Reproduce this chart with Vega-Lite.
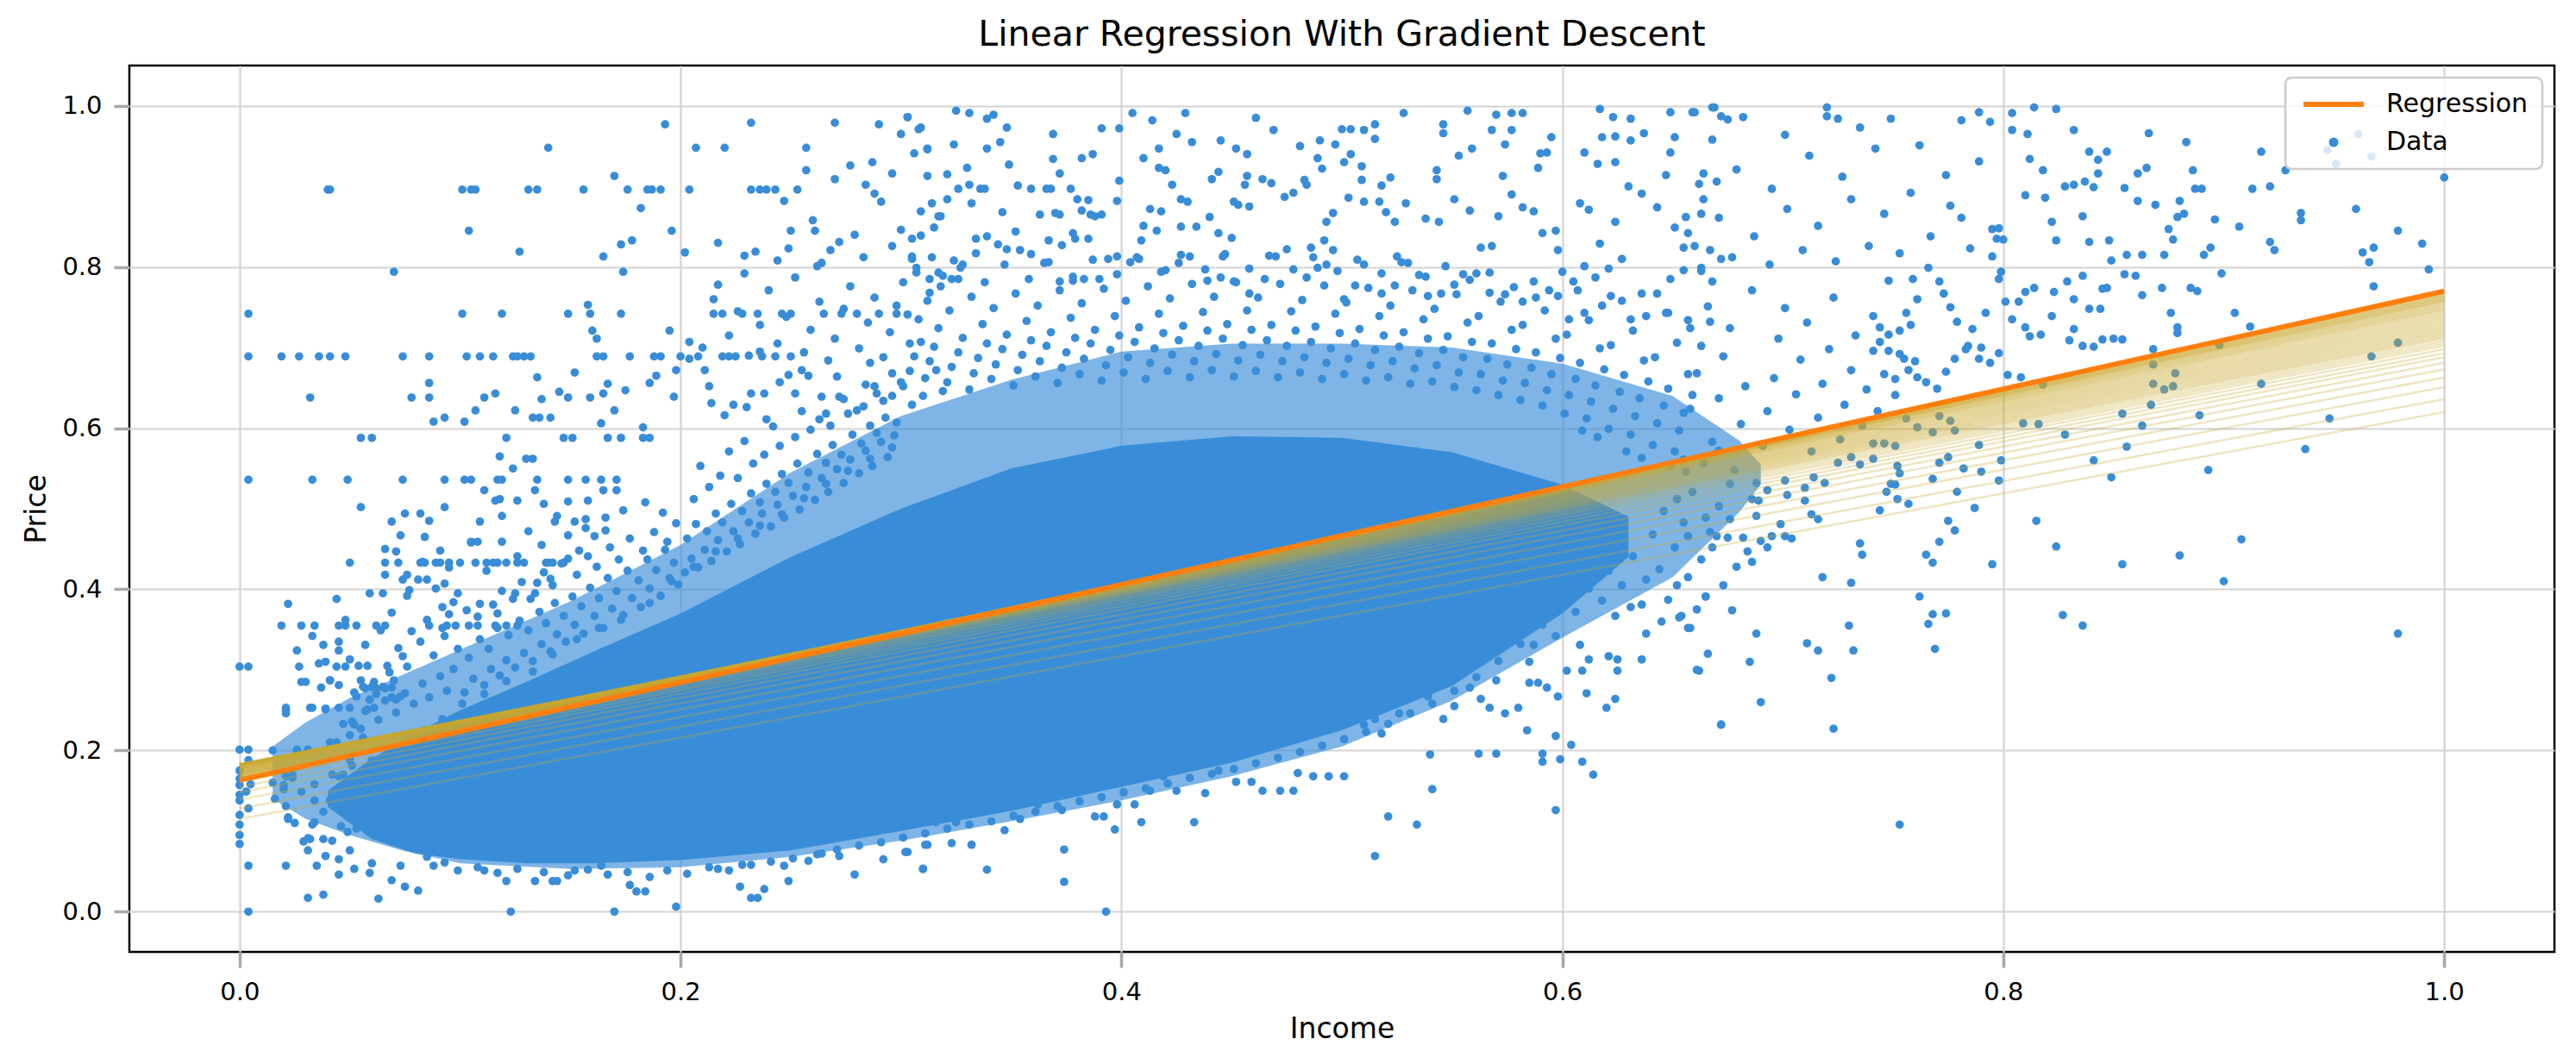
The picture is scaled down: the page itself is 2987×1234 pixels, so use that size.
{
  "$schema": "https://vega.github.io/schema/vega-lite/v6.json",
  "width": 2812,
  "height": 1028,
  "autosize": "none",
  "padding": {"left": 150, "top": 76, "right": 25, "bottom": 130},
  "background": "white",
  "title": {
    "text": "Linear Regression With Gradient Descent",
    "font": "DejaVu Sans",
    "fontSize": 41,
    "fontWeight": "normal",
    "color": "#000000",
    "anchor": "middle",
    "frame": "group",
    "offset": 12,
    "dy": -2
  },
  "config": {
    "view": {"stroke": "#000000", "strokeWidth": 2.5},
    "axis": {
      "labelFont": "DejaVu Sans",
      "labelFontSize": 29,
      "labelColor": "#000000",
      "titleFont": "DejaVu Sans",
      "titleFontSize": 33,
      "titleFontWeight": "normal",
      "titleColor": "#000000",
      "tickSize": 18,
      "tickWidth": 3.5,
      "tickColor": "#a8a8a8",
      "gridColor": "#d3d3d3",
      "gridWidth": 2.2,
      "domain": false,
      "labelPadding": 14,
      "titlePadding": 12
    },
    "legend": {
      "orient": "top-right",
      "offset": 14,
      "padding": 16,
      "fillColor": "rgba(255,255,255,0.8)",
      "strokeColor": "#cccccc",
      "cornerRadius": 7,
      "labelFont": "DejaVu Sans",
      "labelFontSize": 30,
      "labelColor": "#000000",
      "labelLimit": 400,
      "labelOffset": 71,
      "rowPadding": 14,
      "symbolSize": 400,
      "symbolStrokeWidth": 6
    }
  },
  "layer": [
    {
      "data": {
        "values": "x,lo,hi\n0.015,0.140,0.205\n0.030,0.115,0.235\n0.050,0.095,0.265\n0.075,0.075,0.295\n0.100,0.060,0.325\n0.150,0.053,0.385\n0.200,0.055,0.455\n0.250,0.068,0.545\n0.300,0.088,0.615\n0.350,0.112,0.660\n0.400,0.138,0.695\n0.450,0.168,0.705\n0.500,0.205,0.705\n0.550,0.262,0.700\n0.600,0.340,0.680\n0.650,0.415,0.640\n0.680,0.495,0.585\n0.690,0.530,0.555",
        "format": {"type": "csv", "parse": {"x": "number", "lo": "number", "hi": "number"}}
      },
      "mark": {"type": "area", "color": "#398dd8", "opacity": 0.65},
      "encoding": {
        "x": {
          "field": "x",
          "type": "quantitative",
          "title": "Income",
          "scale": {"domain": [-0.05, 1.05], "nice": false, "zero": false},
          "axis": {"values": [0, 0.2, 0.4, 0.6, 0.8, 1.0], "format": ".1f", "grid": true}
        },
        "y": {
          "field": "lo",
          "type": "quantitative",
          "title": "Price",
          "scale": {"domain": [-0.05, 1.05], "nice": false, "zero": false},
          "axis": {"values": [0, 0.2, 0.4, 0.6, 0.8, 1.0], "format": ".1f", "grid": true}
        },
        "y2": {"field": "hi"}
      }
    },
    {
      "data": {
        "values": "x,lo,hi\n0.040,0.130,0.150\n0.060,0.090,0.190\n0.080,0.072,0.222\n0.100,0.065,0.250\n0.130,0.060,0.285\n0.160,0.060,0.322\n0.200,0.064,0.370\n0.250,0.076,0.440\n0.300,0.100,0.500\n0.350,0.125,0.550\n0.400,0.155,0.578\n0.450,0.185,0.590\n0.500,0.225,0.588\n0.550,0.280,0.570\n0.600,0.370,0.530\n0.630,0.440,0.490",
        "format": {"type": "csv", "parse": {"x": "number", "lo": "number", "hi": "number"}}
      },
      "mark": {"type": "area", "color": "#398dd8", "opacity": 1},
      "encoding": {
        "x": {"field": "x", "type": "quantitative", "title": "Income"},
        "y": {"field": "lo", "type": "quantitative", "title": "Price"},
        "y2": {"field": "hi"}
      }
    },
    {
      "data": {
        "values": "x,y\n0,0.304\n0.004,0.304\n0,0.201\n0.004,0.201\n0,0.175\n0,0.157\n0,0.138\n0,0.12\n0,0.108\n0,0.084\n0.004,0.057\n0.004,0\n0,0.145\n0,0.165\n0,0.095\n0.004,0.188\n0.004,0.128\n0.005,0.158\n0.003,0.149\n0.015,0.2\n0.026,0.201\n0.031,0.201\n0.021,0.253\n0.021,0.246\n0.033,0.253\n0.039,0.251\n0.045,0.253\n0.05,0.253\n0.03,0.285\n0.037,0.278\n0.041,0.287\n0.045,0.281\n0.052,0.272\n0.056,0.279\n0.06,0.279\n0.065,0.279\n0.069,0.278\n0.073,0.267\n0.071,0.263\n0.062,0.27\n0.059,0.263\n0.057,0.249\n0.061,0.253\n0.047,0.233\n0.051,0.236\n0.055,0.227\n0.056,0.216\n0.05,0.219\n0.041,0.21\n0.044,0.21\n0.02,0.152\n0.024,0.166\n0.028,0.149\n0.034,0.158\n0.034,0.138\n0.021,0.131\n0.022,0.117\n0.025,0.11\n0.033,0.108\n0.038,0.124\n0.041,0.138\n0.042,0.17\n0.047,0.17\n0.051,0.181\n0.05,0.188\n0.056,0.172\n0.06,0.188\n0.046,0.106\n0.049,0.099\n0.053,0.103\n0.038,0.09\n0.032,0.09\n0.042,0.088\n0.021,0.168\n0.024,0.17\n0.015,0.16\n0.016,0.14\n0.02,0.157\n0.022,0.115\n0.034,0.111\n0.031,0.091\n0.031,0.076\n0.029,0.087\n0.021,0.057\n0.031,0.017\n0.038,0.021\n0.035,0.057\n0.039,0.069\n0.045,0.065\n0.045,0.046\n0.05,0.076\n0.052,0.053\n0.059,0.048\n0.06,0.06\n0.063,0.016\n0.069,0.039\n0.075,0.031\n0.081,0.026\n0.073,0.057\n0.088,0.057\n0.099,0.051\n0.111,0.051\n0.121,0.038\n0.123,0\n0.134,0.038\n0.142,0.038\n0.144,0.038\n0.152,0.051\n0.164,0.057\n0.17,0\n0.177,0.033\n0.18,0.025\n0.184,0.025\n0.198,0.006\n0.217,0.053\n0.227,0.031\n0.232,0.017\n0.235,0.017\n0.238,0.028\n0.228,0.058\n0.247,0.057\n0.249,0.038\n0.258,0.063\n0.264,0.072\n0.279,0.046\n0.272,0.069\n0.292,0.065\n0.303,0.074\n0.31,0.053\n0.311,0.083\n0.026,0.324\n0.027,0.304\n0.028,0.285\n0.036,0.308\n0.039,0.31\n0.038,0.331\n0.033,0.342\n0.041,0.287\n0.044,0.304\n0.045,0.335\n0.045,0.324\n0.048,0.304\n0.05,0.313\n0.054,0.305\n0.058,0.305\n0.055,0.287\n0.057,0.277\n0.062,0.277\n0.066,0.277\n0.069,0.266\n0.068,0.297\n0.074,0.317\n0.076,0.304\n0.07,0.287\n0.053,0.267\n0.039,0.252\n0.032,0.253\n0.021,0.25\n0.019,0.355\n0.028,0.355\n0.034,0.355\n0.045,0.355\n0.048,0.355\n0.053,0.355\n0.062,0.355\n0.066,0.355\n0.086,0.355\n0.094,0.355\n0.104,0.355\n0.108,0.355\n0.116,0.355\n0.121,0.355\n0.126,0.355\n0.022,0.382\n0.065,0.395\n0.066,0.45\n0.074,0.412\n0.076,0.418\n0.077,0.399\n0.085,0.412\n0.083,0.434\n0.093,0.407\n0.097,0.384\n0.099,0.395\n0.095,0.369\n0.092,0.352\n0.103,0.374\n0.109,0.382\n0.117,0.37\n0.125,0.395\n0.132,0.388\n0.135,0.408\n0.141,0.413\n0.14,0.433\n0.149,0.438\n0.154,0.448\n0.161,0.466\n0.166,0.473\n0.05,0.433\n0.066,0.433\n0.072,0.433\n0.082,0.433\n0.084,0.433\n0.089,0.433\n0.091,0.433\n0.095,0.433\n0.1,0.433\n0.107,0.433\n0.112,0.433\n0.115,0.433\n0.117,0.433\n0.121,0.433\n0.126,0.433\n0.129,0.433\n0.139,0.433\n0.142,0.433\n0.147,0.433\n0.004,0.536\n0.033,0.536\n0.049,0.536\n0.074,0.536\n0.093,0.536\n0.102,0.536\n0.105,0.536\n0.117,0.536\n0.119,0.536\n0.135,0.536\n0.149,0.536\n0.157,0.536\n0.164,0.536\n0.171,0.536\n0.118,0.565\n0.124,0.55\n0.13,0.562\n0.133,0.562\n0.055,0.502\n0.069,0.484\n0.075,0.494\n0.073,0.467\n0.082,0.494\n0.086,0.485\n0.093,0.502\n0.111,0.523\n0.116,0.51\n0.118,0.512\n0.126,0.51\n0.119,0.491\n0.109,0.484\n0.105,0.459\n0.108,0.459\n0.119,0.459\n0.134,0.523\n0.138,0.506\n0.143,0.484\n0.149,0.509\n0.152,0.484\n0.158,0.51\n0.165,0.523\n0.171,0.523\n0.157,0.487\n0.055,0.588\n0.06,0.588\n0.147,0.588\n0.151,0.588\n0.167,0.588\n0.173,0.588\n0.121,0.588\n0.183,0.588\n0.186,0.588\n0.158,0.753\n0.16,0.721\n0.162,0.711\n0.195,0.721\n0.204,0.707\n0.204,0.686\n0.198,0.672\n0.189,0.665\n0.186,0.656\n0.197,0.639\n0.175,0.647\n0.167,0.655\n0.165,0.643\n0.159,0.638\n0.152,0.669\n0.149,0.638\n0.145,0.645\n0.137,0.636\n0.135,0.663\n0.116,0.643\n0.111,0.638\n0.107,0.622\n0.102,0.608\n0.093,0.613\n0.088,0.608\n0.086,0.656\n0.086,0.638\n0.078,0.638\n0.032,0.638\n0.125,0.622\n0.133,0.613\n0.136,0.613\n0.141,0.613\n0.164,0.606\n0.17,0.622\n0.183,0.601\n0.213,0.652\n0.214,0.631\n0.22,0.616\n0.224,0.629\n0.232,0.643\n0.23,0.626\n0.238,0.643\n0.239,0.611\n0.245,0.657\n0.249,0.666\n0.252,0.643\n0.258,0.665\n0.264,0.639\n0.266,0.618\n0.274,0.636\n0.28,0.622\n0.284,0.654\n0.289,0.643\n0.296,0.64\n0.3,0.657\n0.305,0.629\n0.31,0.64\n0.316,0.672\n0.04,0.896\n0.041,0.896\n0.101,0.896\n0.105,0.896\n0.107,0.896\n0.131,0.896\n0.135,0.896\n0.156,0.896\n0.176,0.896\n0.185,0.896\n0.187,0.896\n0.191,0.896\n0.204,0.896\n0.232,0.896\n0.236,0.896\n0.239,0.896\n0.243,0.896\n0.253,0.896\n0.193,0.977\n0.14,0.948\n0.207,0.948\n0.22,0.948\n0.232,0.979\n0.257,0.948\n0.27,0.979\n0.29,0.977\n0.303,0.986\n0.3,0.965\n0.309,0.973\n0.312,0.947\n0.257,0.92\n0.277,0.926\n0.27,0.909\n0.287,0.93\n0.296,0.916\n0.17,0.913\n0.182,0.873\n0.104,0.845\n0.127,0.819\n0.165,0.813\n0.173,0.828\n0.178,0.833\n0.196,0.845\n0.202,0.818\n0.217,0.83\n0.229,0.814\n0.234,0.819\n0.247,0.882\n0.249,0.823\n0.25,0.845\n0.26,0.858\n0.261,0.845\n0.264,0.805\n0.268,0.821\n0.272,0.831\n0.279,0.84\n0.284,0.902\n0.288,0.891\n0.291,0.881\n0.3,0.846\n0.305,0.813\n0.307,0.799\n0.315,0.849\n0.318,0.863\n0.07,0.794\n0.174,0.794\n0.004,0.742\n0.101,0.742\n0.119,0.742\n0.149,0.742\n0.159,0.742\n0.173,0.742\n0.215,0.742\n0.219,0.742\n0.228,0.742\n0.235,0.742\n0.246,0.742\n0.25,0.742\n0.265,0.742\n0.273,0.742\n0.28,0.742\n0.29,0.742\n0.298,0.742\n0.004,0.689\n0.019,0.689\n0.027,0.689\n0.036,0.689\n0.041,0.689\n0.048,0.689\n0.074,0.689\n0.086,0.689\n0.103,0.689\n0.109,0.689\n0.115,0.689\n0.124,0.689\n0.126,0.689\n0.129,0.689\n0.132,0.689\n0.162,0.689\n0.165,0.689\n0.177,0.689\n0.188,0.689\n0.191,0.689\n0.2,0.689\n0.208,0.689\n0.219,0.689\n0.222,0.689\n0.225,0.689\n0.237,0.689\n0.243,0.689\n0.25,0.689\n0.21,0.7\n0.215,0.76\n0.222,0.715\n0.226,0.745\n0.231,0.69\n0.236,0.728\n0.24,0.771\n0.244,0.705\n0.248,0.738\n0.252,0.787\n0.256,0.694\n0.259,0.722\n0.263,0.757\n0.267,0.684\n0.27,0.711\n0.274,0.748\n0.277,0.776\n0.281,0.699\n0.285,0.731\n0.288,0.762\n0.292,0.688\n0.295,0.719\n0.298,0.752\n0.301,0.781\n0.304,0.705\n0.308,0.735\n0.313,0.768\n0.317,0.793\n0.262,0.801\n0.283,0.812\n0.296,0.826\n0.309,0.839\n0.229,0.792\n0.244,0.808\n0.217,0.778\n0.236,0.695\n0.255,0.672\n0.271,0.664\n0.286,0.681\n0.211,0.672\n0.052,0.232\n0.058,0.251\n0.063,0.238\n0.066,0.262\n0.071,0.247\n0.075,0.271\n0.079,0.258\n0.083,0.283\n0.086,0.266\n0.091,0.292\n0.094,0.274\n0.097,0.301\n0.088,0.318\n0.082,0.335\n0.093,0.342\n0.099,0.326\n0.061,0.285\n0.067,0.305\n0.072,0.327\n0.078,0.348\n0.085,0.362\n0.092,0.378\n0.098,0.355\n0.064,0.349\n0.057,0.331\n0.069,0.371\n0.076,0.392\n0.081,0.412\n0.089,0.401\n0.095,0.427\n0.059,0.395\n0.066,0.418\n0.048,0.362\n0.044,0.388\n0.071,0.447\n0.084,0.465\n0.091,0.448\n0.102,0.272\n0.106,0.289\n0.111,0.281\n0.114,0.301\n0.118,0.293\n0.121,0.312\n0.125,0.303\n0.129,0.321\n0.133,0.311\n0.137,0.332\n0.141,0.323\n0.144,0.344\n0.148,0.335\n0.152,0.356\n0.156,0.345\n0.161,0.367\n0.165,0.352\n0.169,0.376\n0.173,0.362\n0.178,0.389\n0.182,0.378\n0.186,0.401\n0.191,0.392\n0.195,0.414\n0.199,0.406\n0.104,0.315\n0.109,0.338\n0.113,0.326\n0.117,0.352\n0.122,0.343\n0.127,0.361\n0.131,0.349\n0.136,0.372\n0.139,0.358\n0.143,0.383\n0.147,0.367\n0.151,0.391\n0.155,0.379\n0.159,0.402\n0.163,0.389\n0.167,0.414\n0.171,0.398\n0.176,0.423\n0.181,0.411\n0.185,0.437\n0.189,0.424\n0.193,0.449\n0.197,0.433\n0.108,0.366\n0.115,0.381\n0.119,0.398\n0.124,0.388\n0.128,0.409\n0.134,0.395\n0.138,0.421\n0.142,0.405\n0.146,0.432\n0.153,0.418\n0.158,0.441\n0.162,0.428\n0.168,0.452\n0.172,0.437\n0.177,0.463\n0.183,0.448\n0.188,0.471\n0.194,0.459\n0.198,0.482\n0.112,0.423\n0.126,0.441\n0.137,0.455\n0.149,0.467\n0.157,0.476\n0.166,0.489\n0.174,0.498\n0.184,0.508\n0.192,0.495\n0.105,0.458\n0.131,0.472\n0.144,0.491\n0.202,0.421\n0.205,0.438\n0.208,0.427\n0.211,0.449\n0.214,0.435\n0.217,0.461\n0.221,0.447\n0.224,0.472\n0.227,0.456\n0.231,0.483\n0.234,0.469\n0.237,0.494\n0.241,0.478\n0.244,0.505\n0.247,0.489\n0.251,0.516\n0.254,0.499\n0.257,0.527\n0.261,0.511\n0.264,0.538\n0.267,0.521\n0.271,0.549\n0.274,0.532\n0.277,0.561\n0.281,0.544\n0.284,0.572\n0.287,0.553\n0.291,0.583\n0.294,0.564\n0.297,0.591\n0.203,0.463\n0.207,0.481\n0.212,0.472\n0.216,0.494\n0.219,0.483\n0.223,0.506\n0.228,0.497\n0.232,0.519\n0.236,0.508\n0.239,0.531\n0.243,0.521\n0.246,0.543\n0.249,0.532\n0.253,0.556\n0.258,0.545\n0.262,0.568\n0.266,0.557\n0.269,0.579\n0.273,0.567\n0.278,0.592\n0.282,0.581\n0.286,0.603\n0.289,0.594\n0.293,0.613\n0.298,0.607\n0.206,0.512\n0.213,0.527\n0.218,0.541\n0.226,0.538\n0.233,0.556\n0.238,0.567\n0.245,0.578\n0.252,0.589\n0.259,0.598\n0.263,0.611\n0.268,0.603\n0.276,0.618\n0.283,0.627\n0.292,0.634\n0.209,0.553\n0.222,0.571\n0.229,0.584\n0.242,0.602\n0.255,0.621\n0.272,0.639\n0.288,0.652\n0.296,0.668\n0.085,0.068\n0.093,0.061\n0.108,0.055\n0.117,0.048\n0.126,0.053\n0.138,0.049\n0.149,0.045\n0.158,0.052\n0.167,0.046\n0.176,0.049\n0.186,0.043\n0.194,0.051\n0.203,0.047\n0.213,0.055\n0.222,0.051\n0.232,0.058\n0.241,0.062\n0.251,0.066\n0.262,0.071\n0.271,0.077\n0.281,0.082\n0.291,0.086\n0.301,0.092\n0.311,0.097\n0.321,0.103\n0.331,0.108\n0.341,0.112\n0.351,0.119\n0.361,0.124\n0.371,0.131\n0.381,0.137\n0.391,0.142\n0.401,0.148\n0.411,0.153\n0.421,0.159\n0.431,0.166\n0.441,0.171\n0.451,0.177\n0.461,0.184\n0.471,0.191\n0.481,0.198\n0.491,0.206\n0.501,0.214\n0.511,0.223\n0.521,0.233\n0.531,0.246\n0.541,0.258\n0.551,0.274\n0.561,0.291\n0.571,0.311\n0.581,0.332\n0.591,0.356\n0.601,0.381\n0.045,0.168\n0.053,0.162\n0.062,0.18\n0.068,0.198\n0.077,0.218\n0.084,0.225\n0.092,0.239\n0.101,0.258\n0.111,0.27\n0.121,0.286\n0.133,0.298\n0.142,0.319\n0.153,0.338\n0.163,0.352\n0.174,0.368\n0.186,0.383\n0.196,0.41\n0.206,0.428\n0.216,0.447\n0.226,0.463\n0.236,0.479\n0.246,0.493\n0.256,0.513\n0.266,0.531\n0.276,0.547\n0.286,0.562\n0.296,0.576\n0.584,0.225\n0.597,0.218\n0.597,0.126\n0.604,0.207\n0.609,0.186\n0.614,0.17\n0.599,0.189\n0.591,0.186\n0.591,0.196\n0.57,0.196\n0.562,0.196\n0.541,0.152\n0.534,0.108\n0.521,0.118\n0.515,0.069\n0.54,0.195\n0.57,0.287\n0.577,0.342\n0.571,0.342\n0.585,0.284\n0.589,0.284\n0.593,0.278\n0.598,0.267\n0.585,0.31\n0.587,0.331\n0.584,0.356\n0.597,0.342\n0.602,0.299\n0.608,0.331\n0.611,0.271\n0.62,0.253\n0.624,0.264\n0.609,0.299\n0.612,0.313\n0.621,0.317\n0.625,0.313\n0.625,0.299\n0.636,0.313\n0.624,0.367\n0.636,0.381\n0.638,0.345\n0.645,0.36\n0.653,0.365\n0.658,0.352\n0.665,0.391\n0.662,0.299\n0.672,0.232\n0.597,0.381\n0.593,0.391\n0.586,0.381\n0.582,0.363\n0.565,0.324\n0.56,0.335\n0.555,0.345\n0.55,0.32\n0.547,0.345\n0.544,0.285\n0.539,0.267\n0.542,0.317\n0.536,0.303\n0.532,0.289\n0.527,0.278\n0.522,0.267\n0.526,0.246\n0.518,0.221\n0.515,0.239\n0.51,0.232\n0.506,0.246\n0.501,0.168\n0.494,0.168\n0.487,0.168\n0.48,0.172\n0.472,0.15\n0.478,0.15\n0.464,0.15\n0.459,0.161\n0.452,0.161\n0.444,0.175\n0.438,0.147\n0.433,0.111\n0.425,0.15\n0.419,0.168\n0.413,0.15\n0.409,0.111\n0.406,0.133\n0.398,0.133\n0.397,0.102\n0.393,0\n0.388,0.118\n0.392,0.118\n0.374,0.037\n0.374,0.077\n0.373,0.126\n0.362,0.133\n0.354,0.115\n0.347,0.101\n0.339,0.052\n0.332,0.083\n0.323,0.085\n0.312,0.083\n0.31,0.053\n0.302,0.074\n0.325,0.111\n0.316,0.111\n0.339,0.133\n0.347,0.133\n0.546,0.239\n0.551,0.255\n0.558,0.278\n0.563,0.264\n0.58,0.253\n0.574,0.246\n0.567,0.253\n0.641,0.468\n0.646,0.497\n0.651,0.452\n0.655,0.483\n0.659,0.521\n0.663,0.437\n0.667,0.471\n0.671,0.503\n0.644,0.425\n0.652,0.405\n0.648,0.387\n0.638,0.412\n0.632,0.441\n0.627,0.405\n0.621,0.423\n0.618,0.386\n0.612,0.401\n0.606,0.372\n0.631,0.378\n0.657,0.415\n0.668,0.452\n0.676,0.487\n0.682,0.464\n0.688,0.491\n0.679,0.428\n0.673,0.405\n0.661,0.375\n0.693,0.452\n0.699,0.481\n0.704,0.463\n0.686,0.512\n0.676,0.531\n0.664,0.556\n0.671,0.572\n0.301,0.652\n0.304,0.671\n0.306,0.689\n0.309,0.707\n0.311,0.662\n0.313,0.683\n0.315,0.701\n0.317,0.724\n0.319,0.646\n0.303,0.741\n0.312,0.758\n0.318,0.776\n0.307,0.793\n0.314,0.812\n0.321,0.657\n0.323,0.676\n0.326,0.694\n0.328,0.712\n0.331,0.648\n0.333,0.668\n0.335,0.687\n0.337,0.729\n0.339,0.705\n0.322,0.746\n0.332,0.763\n0.338,0.781\n0.327,0.799\n0.334,0.817\n0.341,0.661\n0.343,0.679\n0.346,0.698\n0.348,0.716\n0.351,0.653\n0.353,0.672\n0.355,0.691\n0.357,0.733\n0.359,0.709\n0.342,0.749\n0.352,0.767\n0.358,0.785\n0.347,0.803\n0.354,0.821\n0.361,0.664\n0.363,0.683\n0.366,0.702\n0.368,0.719\n0.371,0.656\n0.373,0.675\n0.375,0.694\n0.377,0.737\n0.379,0.712\n0.362,0.752\n0.372,0.771\n0.378,0.788\n0.367,0.806\n0.381,0.667\n0.383,0.686\n0.386,0.705\n0.388,0.722\n0.391,0.659\n0.393,0.678\n0.395,0.697\n0.397,0.739\n0.399,0.715\n0.382,0.755\n0.392,0.773\n0.398,0.791\n0.387,0.809\n0.401,0.669\n0.403,0.688\n0.406,0.707\n0.408,0.725\n0.411,0.661\n0.413,0.681\n0.415,0.699\n0.417,0.742\n0.419,0.718\n0.402,0.758\n0.412,0.776\n0.418,0.794\n0.407,0.812\n0.421,0.671\n0.423,0.691\n0.426,0.709\n0.428,0.727\n0.431,0.663\n0.433,0.683\n0.435,0.702\n0.437,0.744\n0.439,0.721\n0.422,0.761\n0.432,0.779\n0.438,0.797\n0.427,0.815\n0.441,0.672\n0.443,0.692\n0.446,0.711\n0.448,0.729\n0.451,0.664\n0.453,0.684\n0.455,0.703\n0.457,0.746\n0.459,0.722\n0.442,0.763\n0.452,0.781\n0.458,0.798\n0.447,0.816\n0.461,0.671\n0.463,0.691\n0.466,0.709\n0.468,0.728\n0.471,0.663\n0.473,0.683\n0.475,0.702\n0.477,0.745\n0.479,0.721\n0.462,0.762\n0.472,0.779\n0.478,0.797\n0.467,0.814\n0.481,0.669\n0.483,0.688\n0.486,0.707\n0.488,0.726\n0.491,0.661\n0.493,0.681\n0.495,0.699\n0.497,0.742\n0.499,0.718\n0.482,0.759\n0.492,0.777\n0.498,0.795\n0.487,0.812\n0.501,0.667\n0.503,0.686\n0.506,0.705\n0.508,0.723\n0.511,0.659\n0.513,0.678\n0.515,0.697\n0.517,0.739\n0.519,0.715\n0.502,0.756\n0.512,0.774\n0.518,0.792\n0.507,0.809\n0.521,0.663\n0.523,0.683\n0.526,0.701\n0.528,0.719\n0.531,0.655\n0.533,0.674\n0.535,0.693\n0.537,0.735\n0.539,0.711\n0.522,0.752\n0.532,0.771\n0.538,0.788\n0.527,0.806\n0.541,0.658\n0.543,0.678\n0.546,0.697\n0.548,0.714\n0.551,0.651\n0.553,0.669\n0.555,0.688\n0.557,0.731\n0.559,0.707\n0.542,0.748\n0.552,0.766\n0.558,0.784\n0.547,0.801\n0.561,0.647\n0.563,0.667\n0.566,0.686\n0.568,0.705\n0.571,0.641\n0.573,0.659\n0.575,0.679\n0.577,0.722\n0.579,0.698\n0.562,0.739\n0.572,0.757\n0.578,0.775\n0.567,0.793\n0.581,0.635\n0.583,0.656\n0.586,0.675\n0.588,0.694\n0.591,0.628\n0.593,0.647\n0.595,0.667\n0.597,0.711\n0.599,0.687\n0.582,0.728\n0.592,0.746\n0.598,0.764\n0.587,0.782\n0.601,0.618\n0.603,0.641\n0.606,0.661\n0.608,0.681\n0.611,0.612\n0.613,0.633\n0.615,0.653\n0.617,0.699\n0.619,0.673\n0.602,0.716\n0.612,0.734\n0.618,0.752\n0.607,0.771\n0.609,0.597\n0.616,0.589\n0.621,0.599\n0.623,0.624\n0.626,0.645\n0.628,0.666\n0.631,0.592\n0.633,0.615\n0.635,0.637\n0.637,0.684\n0.639,0.658\n0.622,0.703\n0.632,0.721\n0.638,0.739\n0.627,0.758\n0.629,0.571\n0.636,0.563\n0.641,0.579\n0.643,0.606\n0.646,0.628\n0.648,0.649\n0.651,0.571\n0.653,0.597\n0.655,0.619\n0.657,0.667\n0.659,0.641\n0.642,0.688\n0.652,0.706\n0.658,0.724\n0.647,0.743\n0.649,0.553\n0.656,0.546\n0.303,0.986\n0.308,0.971\n0.325,0.994\n0.331,0.991\n0.339,0.984\n0.342,0.989\n0.348,0.973\n0.391,0.972\n0.399,0.972\n0.405,0.991\n0.414,0.982\n0.429,0.991\n0.461,0.985\n0.469,0.97\n0.528,0.991\n0.557,0.994\n0.57,0.989\n0.577,0.991\n0.582,0.991\n0.617,0.996\n0.623,0.986\n0.631,0.984\n0.649,0.992\n0.66,0.992\n0.669,0.998\n0.672,0.987\n0.306,0.941\n0.312,0.946\n0.324,0.952\n0.33,0.923\n0.339,0.947\n0.345,0.955\n0.349,0.927\n0.369,0.965\n0.369,0.934\n0.382,0.935\n0.387,0.94\n0.41,0.935\n0.417,0.947\n0.425,0.965\n0.432,0.955\n0.445,0.957\n0.452,0.947\n0.457,0.94\n0.481,0.95\n0.49,0.957\n0.497,0.952\n0.504,0.94\n0.5,0.971\n0.504,0.971\n0.51,0.97\n0.515,0.977\n0.515,0.959\n0.546,0.977\n0.546,0.966\n0.553,0.938\n0.559,0.947\n0.568,0.97\n0.574,0.952\n0.577,0.97\n0.595,0.961\n0.59,0.941\n0.593,0.942\n0.61,0.942\n0.618,0.961\n0.624,0.962\n0.631,0.957\n0.637,0.966\n0.651,0.961\n0.649,0.942\n0.664,0.916\n0.67,0.906\n0.616,0.928\n0.624,0.93\n0.647,0.914\n0.589,0.923\n0.573,0.913\n0.543,0.92\n0.543,0.909\n0.522,0.911\n0.518,0.901\n0.509,0.925\n0.509,0.908\n0.501,0.93\n0.489,0.935\n0.491,0.922\n0.483,0.908\n0.484,0.902\n0.478,0.892\n0.474,0.887\n0.464,0.909\n0.468,0.904\n0.457,0.913\n0.456,0.902\n0.451,0.881\n0.444,0.918\n0.441,0.909\n0.44,0.862\n0.43,0.881\n0.427,0.884\n0.423,0.902\n0.42,0.92\n0.417,0.923\n0.413,0.872\n0.418,0.869\n0.41,0.851\n0.409,0.833\n0.416,0.845\n0.427,0.85\n0.434,0.85\n0.444,0.842\n0.45,0.836\n0.446,0.813\n0.453,0.877\n0.458,0.875\n0.399,0.907\n0.398,0.882\n0.391,0.865\n0.388,0.863\n0.385,0.883\n0.382,0.87\n0.38,0.884\n0.377,0.897\n0.372,0.916\n0.368,0.897\n0.366,0.897\n0.363,0.865\n0.37,0.867\n0.372,0.865\n0.378,0.842\n0.379,0.835\n0.385,0.835\n0.386,0.865\n0.373,0.827\n0.367,0.833\n0.359,0.897\n0.353,0.901\n0.346,0.868\n0.338,0.897\n0.336,0.897\n0.331,0.902\n0.326,0.897\n0.321,0.915\n0.321,0.884\n0.317,0.863\n0.314,0.879\n0.312,0.913\n0.309,0.869\n0.332,0.879\n0.339,0.838\n0.334,0.835\n0.344,0.828\n0.348,0.822\n0.352,0.844\n0.359,0.816\n0.365,0.805\n0.372,0.782\n0.378,0.783\n0.383,0.785\n0.39,0.785\n0.394,0.81\n0.398,0.813\n0.324,0.808\n0.328,0.803\n0.319,0.789\n0.323,0.785\n0.326,0.785\n0.313,0.785\n0.305,0.81\n0.305,0.835\n0.404,0.806\n0.408,0.81\n0.42,0.796\n0.426,0.805\n0.431,0.813\n0.439,0.783\n0.445,0.787\n0.451,0.782\n0.458,0.767\n0.465,0.785\n0.47,0.813\n0.475,0.822\n0.484,0.787\n0.489,0.799\n0.493,0.803\n0.496,0.821\n0.492,0.833\n0.486,0.824\n0.493,0.856\n0.496,0.867\n0.503,0.886\n0.51,0.881\n0.517,0.881\n0.52,0.868\n0.524,0.856\n0.529,0.879\n0.538,0.86\n0.544,0.856\n0.551,0.884\n0.558,0.87\n0.563,0.824\n0.568,0.826\n0.571,0.863\n0.577,0.89\n0.582,0.874\n0.587,0.869\n0.591,0.842\n0.597,0.845\n0.598,0.821\n0.608,0.879\n0.612,0.871\n0.617,0.829\n0.624,0.856\n0.63,0.9\n0.636,0.891\n0.643,0.874\n0.651,0.849\n0.656,0.862\n0.663,0.866\n0.664,0.884\n0.655,0.824\n0.66,0.826\n0.667,0.821\n0.672,0.81\n0.627,0.81\n0.621,0.798\n0.615,0.787\n0.61,0.801\n0.605,0.782\n0.6,0.794\n0.594,0.771\n0.588,0.762\n0.582,0.757\n0.574,0.766\n0.567,0.768\n0.561,0.792\n0.555,0.791\n0.551,0.778\n0.545,0.767\n0.539,0.764\n0.535,0.79\n0.53,0.805\n0.525,0.813\n0.524,0.777\n0.518,0.767\n0.51,0.803\n0.506,0.777\n0.501,0.76\n0.636,0.767\n0.643,0.767\n0.649,0.785\n0.655,0.796\n0.663,0.799\n0.668,0.782\n0.648,0.743\n0.657,0.734\n0.667,0.732\n0.631,0.735\n0.622,0.764\n0.61,0.743\n0.603,0.735\n0.659,0.992\n0.668,0.998\n0.675,0.983\n0.682,0.986\n0.72,0.998\n0.72,0.987\n0.725,0.984\n0.749,0.984\n0.781,0.982\n0.789,0.992\n0.794,0.98\n0.804,0.991\n0.814,0.998\n0.824,0.996\n0.832,0.97\n0.804,0.97\n0.811,0.965\n0.866,0.966\n0.883,0.955\n0.917,0.943\n0.961,0.965\n0.947,0.945\n0.951,0.928\n0.967,0.937\n0.928,0.92\n1.0,0.911\n0.921,0.9\n0.913,0.897\n0.886,0.92\n0.865,0.923\n0.861,0.916\n0.847,0.943\n0.839,0.943\n0.843,0.933\n0.843,0.916\n0.837,0.906\n0.841,0.899\n0.855,0.898\n0.861,0.882\n0.869,0.877\n0.88,0.882\n0.887,0.897\n0.89,0.897\n0.879,0.862\n0.882,0.866\n0.896,0.859\n0.907,0.85\n0.935,0.867\n0.935,0.858\n0.96,0.872\n0.979,0.845\n0.99,0.829\n0.968,0.824\n0.963,0.818\n0.966,0.806\n0.968,0.776\n0.993,0.797\n0.923,0.821\n0.921,0.831\n0.894,0.824\n0.891,0.815\n0.877,0.834\n0.875,0.847\n0.873,0.815\n0.863,0.815\n0.856,0.815\n0.849,0.808\n0.848,0.833\n0.839,0.831\n0.836,0.863\n0.824,0.833\n0.822,0.856\n0.818,0.92\n0.812,0.934\n0.81,0.889\n0.819,0.886\n0.828,0.9\n0.832,0.902\n0.899,0.792\n0.872,0.774\n0.885,0.774\n0.888,0.77\n0.905,0.743\n0.912,0.726\n0.876,0.743\n0.879,0.725\n0.879,0.718\n0.868,0.698\n0.863,0.765\n0.855,0.791\n0.86,0.789\n0.847,0.774\n0.845,0.773\n0.844,0.748\n0.839,0.748\n0.832,0.76\n0.836,0.789\n0.829,0.782\n0.823,0.769\n0.832,0.723\n0.836,0.702\n0.83,0.709\n0.822,0.739\n0.814,0.774\n0.81,0.769\n0.807,0.757\n0.81,0.725\n0.804,0.735\n0.801,0.757\n0.798,0.785\n0.799,0.794\n0.795,0.813\n0.797,0.835\n0.8,0.834\n0.798,0.848\n0.795,0.847\n0.792,0.743\n0.786,0.723\n0.784,0.702\n0.79,0.7\n0.779,0.732\n0.776,0.75\n0.773,0.767\n0.771,0.782\n0.766,0.799\n0.759,0.785\n0.761,0.76\n0.756,0.743\n0.753,0.721\n0.748,0.716\n0.744,0.725\n0.744,0.707\n0.741,0.696\n0.748,0.696\n0.755,0.686\n0.757,0.672\n0.751,0.661\n0.76,0.683\n0.765,0.657\n0.77,0.649\n0.774,0.67\n0.778,0.686\n0.783,0.698\n0.789,0.686\n0.794,0.681\n0.798,0.693\n0.802,0.666\n0.808,0.663\n0.818,0.654\n0.817,0.716\n0.812,0.714\n0.841,0.701\n0.845,0.71\n0.85,0.711\n0.854,0.71\n0.868,0.679\n0.878,0.668\n0.873,0.648\n0.877,0.652\n0.889,0.616\n0.854,0.618\n0.863,0.603\n0.867,0.629\n0.868,0.655\n0.828,0.592\n0.809,0.606\n0.816,0.605\n0.841,0.56\n0.849,0.539\n0.937,0.574\n0.967,0.689\n0.979,0.706\n0.815,0.485\n0.824,0.453\n0.854,0.431\n0.88,0.442\n0.9,0.41\n0.908,0.462\n0.827,0.368\n0.836,0.355\n0.979,0.345\n0.795,0.431\n0.787,0.501\n0.778,0.473\n0.775,0.485\n0.771,0.459\n0.765,0.443\n0.768,0.433\n0.762,0.391\n0.768,0.369\n0.774,0.37\n0.766,0.357\n0.769,0.326\n0.753,0.108\n0.731,0.408\n0.73,0.355\n0.732,0.324\n0.722,0.29\n0.723,0.227\n0.716,0.324\n0.711,0.333\n0.718,0.415\n0.69,0.26\n0.672,0.232\n0.685,0.31\n0.688,0.345\n0.666,0.32\n0.661,0.3\n0.657,0.352\n0.665,0.391\n0.677,0.374\n0.654,0.367\n0.735,0.457\n0.736,0.443\n0.798,0.535\n0.799,0.56\n0.79,0.546\n0.782,0.55\n0.779,0.521\n0.775,0.564\n0.771,0.557\n0.768,0.537\n0.757,0.506\n0.752,0.512\n0.751,0.53\n0.747,0.521\n0.744,0.498\n0.789,0.579\n0.778,0.597\n0.776,0.609\n0.771,0.615\n0.761,0.601\n0.768,0.595\n0.746,0.581\n0.751,0.578\n0.741,0.581\n0.741,0.562\n0.752,0.553\n0.753,0.544\n0.749,0.531\n0.735,0.555\n0.731,0.564\n0.725,0.557\n0.719,0.532\n0.714,0.539\n0.71,0.526\n0.713,0.493\n0.716,0.487\n0.71,0.51\n0.702,0.517\n0.701,0.535\n0.693,0.523\n0.689,0.51\n0.701,0.466\n0.695,0.466\n0.69,0.46\n0.684,0.447\n0.686,0.434\n0.675,0.464\n0.67,0.466\n0.665,0.489\n0.657,0.466\n0.652,0.512\n0.655,0.561\n0.658,0.624\n0.661,0.668\n0.663,0.702\n0.666,0.751\n0.668,0.583\n0.671,0.637\n0.673,0.689\n0.676,0.724\n0.678,0.548\n0.681,0.605\n0.683,0.652\n0.686,0.771\n0.688,0.532\n0.691,0.578\n0.693,0.621\n0.696,0.662\n0.698,0.711\n0.701,0.749\n0.703,0.598\n0.706,0.642\n0.708,0.685\n0.711,0.731\n0.713,0.571\n0.716,0.613\n0.718,0.655\n0.721,0.698\n0.723,0.762\n0.726,0.586\n0.728,0.629\n0.731,0.672\n0.733,0.715\n0.736,0.603\n0.738,0.648\n0.741,0.739\n0.743,0.621\n0.746,0.667\n0.748,0.783\n0.751,0.641\n0.753,0.692\n0.756,0.612\n0.758,0.728\n0.761,0.663\n0.663,0.795\n0.677,0.812\n0.694,0.803\n0.709,0.821\n0.724,0.807\n0.739,0.826\n0.657,0.842\n0.671,0.861\n0.687,0.838\n0.702,0.872\n0.716,0.851\n0.731,0.884\n0.746,0.866\n0.662,0.903\n0.679,0.921\n0.695,0.897\n0.712,0.938\n0.727,0.912\n0.742,0.947\n0.668,0.958\n0.701,0.964\n0.735,0.973\n0.767,0.838\n0.781,0.861\n0.758,0.892\n0.774,0.914\n0.789,0.931\n0.762,0.951\n0.776,0.876\n0.753,0.817\n0.785,0.823\n0.898,0.703\n0.917,0.655\n0.948,0.612\n0.856,0.577\n0.893,0.548",
        "format": {"type": "csv", "parse": {"x": "number", "y": "number"}}
      },
      "mark": {"type": "circle", "size": 95, "opacity": 1},
      "encoding": {
        "x": {"field": "x", "type": "quantitative", "title": "Income"},
        "y": {"field": "y", "type": "quantitative", "title": "Price"},
        "color": {
          "datum": "Data",
          "scale": {"domain": ["Regression", "Data"], "range": ["#ff7f0e", "#398dd8"]},
          "legend": {
            "title": null,
            "encode": {
              "legend": {"update": {"strokeWidth": {"value": 2.5}}},
              "symbols": {
                "update": {
                  "shape": {"signal": "datum.value === 'Regression' ? 'M-1,0H6' : 'M2.75,0A0.25,0.25,0,1,1,2.25,0A0.25,0.25,0,1,1,2.75,0Z'"},
                  "fill": {"signal": "datum.value === 'Regression' ? 'transparent' : '#398dd8'"},
                  "stroke": {"signal": "datum.value === 'Regression' ? '#ff7f0e' : '#398dd8'"},
                  "strokeWidth": {"value": 6},
                  "opacity": {"value": 1}
                }
              }
            }
          }
        }
      }
    },
    {
      "data": {
        "values": "i,x,y\n0,0,0.115\n0,1,0.620\n1,0,0.128\n1,1,0.636\n2,0,0.139\n2,1,0.651\n3,0,0.148\n3,1,0.663\n4,0,0.155\n4,1,0.673\n5,0,0.161\n5,1,0.681\n6,0,0.166\n6,1,0.688\n7,0,0.170\n7,1,0.693\n8,0,0.173\n8,1,0.698\n9,0,0.176\n9,1,0.702\n10,0,0.178\n10,1,0.705\n11,0,0.180\n11,1,0.708\n12,0,0.181\n12,1,0.711\n13,0,0.182\n13,1,0.713\n14,0,0.182\n14,1,0.715\n15,0,0.183\n15,1,0.717\n16,0,0.183\n16,1,0.719\n17,0,0.183\n17,1,0.721\n18,0,0.183\n18,1,0.723\n19,0,0.183\n19,1,0.725\n20,0,0.182\n20,1,0.727\n21,0,0.182\n21,1,0.729\n22,0,0.182\n22,1,0.731\n23,0,0.181\n23,1,0.733\n24,0,0.181\n24,1,0.735\n25,0,0.180\n25,1,0.737\n26,0,0.180\n26,1,0.739\n27,0,0.179\n27,1,0.741\n28,0,0.179\n28,1,0.743\n29,0,0.178\n29,1,0.745\n30,0,0.178\n30,1,0.747\n31,0,0.177\n31,1,0.748\n32,0,0.177\n32,1,0.750\n33,0,0.176\n33,1,0.751\n34,0,0.175\n34,1,0.753\n35,0,0.175\n35,1,0.754\n36,0,0.174\n36,1,0.756\n37,0,0.173\n37,1,0.757\n38,0,0.173\n38,1,0.758\n39,0,0.172\n39,1,0.759\n40,0,0.171\n40,1,0.760\n41,0,0.171\n41,1,0.761\n42,0,0.170\n42,1,0.762\n43,0,0.169\n43,1,0.763\n44,0,0.169\n44,1,0.764\n45,0,0.168\n45,1,0.765\n46,0,0.167\n46,1,0.766\n47,0,0.167\n47,1,0.767\n48,0,0.166\n48,1,0.768\n49,0,0.165\n49,1,0.769",
        "format": {"type": "csv", "parse": {"i": "number", "x": "number", "y": "number"}}
      },
      "mark": {"type": "line", "color": "#c9a832", "opacity": 0.3, "strokeWidth": 2.5},
      "encoding": {
        "x": {"field": "x", "type": "quantitative", "title": "Income"},
        "y": {"field": "y", "type": "quantitative", "title": "Price"},
        "detail": {"field": "i", "type": "nominal"}
      }
    },
    {
      "data": {"values": [{"x": 0, "y": 0.163}, {"x": 1, "y": 0.770}]},
      "mark": {"type": "line", "strokeWidth": 6},
      "encoding": {
        "x": {"field": "x", "type": "quantitative", "title": "Income"},
        "y": {"field": "y", "type": "quantitative", "title": "Price"},
        "color": {
          "datum": "Regression",
          "legend": {
            "title": null,
            "encode": {
              "legend": {"update": {"strokeWidth": {"value": 2.5}}},
              "symbols": {
                "update": {
                  "shape": {"signal": "datum.value === 'Regression' ? 'M-1,0H6' : 'M2.75,0A0.25,0.25,0,1,1,2.25,0A0.25,0.25,0,1,1,2.75,0Z'"},
                  "fill": {"signal": "datum.value === 'Regression' ? 'transparent' : '#398dd8'"},
                  "stroke": {"signal": "datum.value === 'Regression' ? '#ff7f0e' : '#398dd8'"},
                  "strokeWidth": {"value": 6},
                  "opacity": {"value": 1}
                }
              }
            }
          }
        }
      }
    }
  ]
}
